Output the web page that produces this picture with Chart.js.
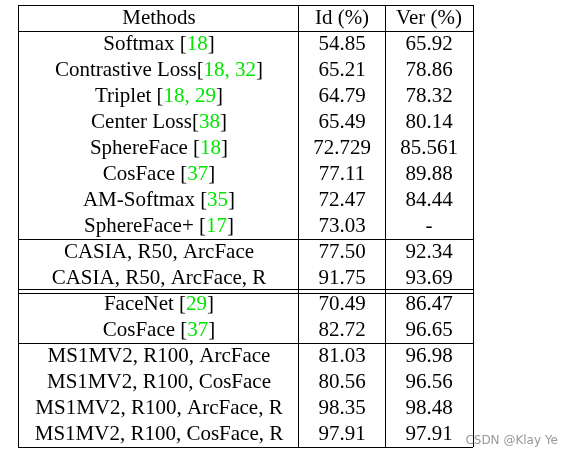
<!DOCTYPE html>
<html><head><meta charset="utf-8">
<script src="https://cdn.jsdelivr.net/npm/chart.js@4.4.0/dist/chart.umd.min.js"></script>
<style>html,body{margin:0;background:#fff}#c{display:block}</style>
</head><body>
<div style="width:563px;height:458px"><canvas id="c"></canvas></div>
<script>
const headers = ['Methods', 'Id (%)', 'Ver (%)'];
const methods = ['Softmax ', 'Contrastive Loss', 'Triplet ', 'Center Loss', 'SphereFace ', 'CosFace ', 'AM-Softmax ', 'SphereFace+ ',
  'CASIA, R50, ArcFace', 'CASIA, R50, ArcFace, R', 'FaceNet ', 'CosFace ',
  'MS1MV2, R100, ArcFace', 'MS1MV2, R100, CosFace', 'MS1MV2, R100, ArcFace, R', 'MS1MV2, R100, CosFace, R'];
const refs = ['18', '18, 32', '18, 29', '38', '18', '37', '35', '17', '', '', '29', '37', '', '', '', ''];
const idVals = ['54.85', '65.21', '64.79', '65.49', '72.729', '77.11', '72.47', '73.03', '77.50', '91.75', '70.49', '82.72', '81.03', '80.56', '98.35', '97.91'];
const verVals = ['65.92', '78.86', '78.32', '80.14', '85.561', '89.88', '84.44', '-', '92.34', '93.69', '86.47', '96.65', '96.98', '96.56', '98.48', '97.91'];
const colX = [159, 342, 429];
const vLines = [18, 298, 385, 473];
const hLines = [-0.5, 0.5, 8.5, 12.5, 16.5];
const doubleLines = [10.5];

const tablePlugin = {
  id: 'table',
  afterDraw(chart) {
    const ctx = chart.ctx, x = chart.scales.x, y = chart.scales.y;
    ctx.save();
    ctx.strokeStyle = '#000'; ctx.lineWidth = 1;
    const top = y.getPixelForValue(-0.5), bot = y.getPixelForValue(16.5);
    vLines.forEach(v => { const px = Math.round(x.getPixelForValue(v)) + 0.5; ctx.beginPath(); ctx.moveTo(px, top); ctx.lineTo(px, bot); ctx.stroke(); });
    const hl = (py) => { ctx.beginPath(); ctx.moveTo(x.getPixelForValue(vLines[0]), py); ctx.lineTo(x.getPixelForValue(vLines[3]), py); ctx.stroke(); };
    hLines.forEach(r => hl(Math.round(y.getPixelForValue(r)) + 0.5));
    doubleLines.forEach(r => { const py = Math.round(y.getPixelForValue(r)); hl(py - 1.5); hl(py + 2.5); });
    ctx.font = '21px "Liberation Serif", "DejaVu Serif", serif';
    ctx.textBaseline = 'middle';
    const drawParts = (parts, cx, cy) => {
      const w = parts.reduce((s, p) => s + ctx.measureText(p[0]).width, 0);
      let px = cx - w / 2;
      ctx.textAlign = 'left';
      parts.forEach(p => { ctx.fillStyle = p[1]; ctx.fillText(p[0], px, cy); px += ctx.measureText(p[0]).width; });
    };
    headers.forEach((h, i) => drawParts([[h, '#000']], x.getPixelForValue(colX[i]), y.getPixelForValue(0)));
    methods.forEach((m, i) => {
      const cy = y.getPixelForValue(i + 1);
      const parts = [[m, '#000']];
      if (refs[i]) parts.push(['[', '#000'], [refs[i], '#00e600'], [']', '#000']);
      drawParts(parts, x.getPixelForValue(colX[0]), cy);
      drawParts([[idVals[i], '#000']], x.getPixelForValue(colX[1]), cy);
      drawParts([[verVals[i], '#000']], x.getPixelForValue(colX[2]), cy);
    });
    ctx.font = '12px "DejaVu Sans", sans-serif';
    ctx.fillStyle = '#999'; ctx.textAlign = 'right';
    ctx.fillText('CSDN @Klay Ye', 558, 441);
    ctx.restore();
  }
};

new Chart(document.getElementById('c'), {
  type: 'scatter',
  data: { datasets: [{ data: methods.map((m, i) => ({ x: colX[0], y: i + 1 })), pointRadius: 0 }] },
  options: {
    responsive: true, maintainAspectRatio: false, animation: false,
    layout: { padding: { top: 5, bottom: 11, left: 0, right: 0 } },
    plugins: { legend: { display: false }, tooltip: { enabled: false } },
    scales: {
      x: { type: 'linear', min: 0, max: 563, display: false },
      y: { type: 'linear', min: -0.5, max: 16.5, reverse: true, display: false }
    }
  },
  plugins: [tablePlugin]
});
</script>
</body></html>
